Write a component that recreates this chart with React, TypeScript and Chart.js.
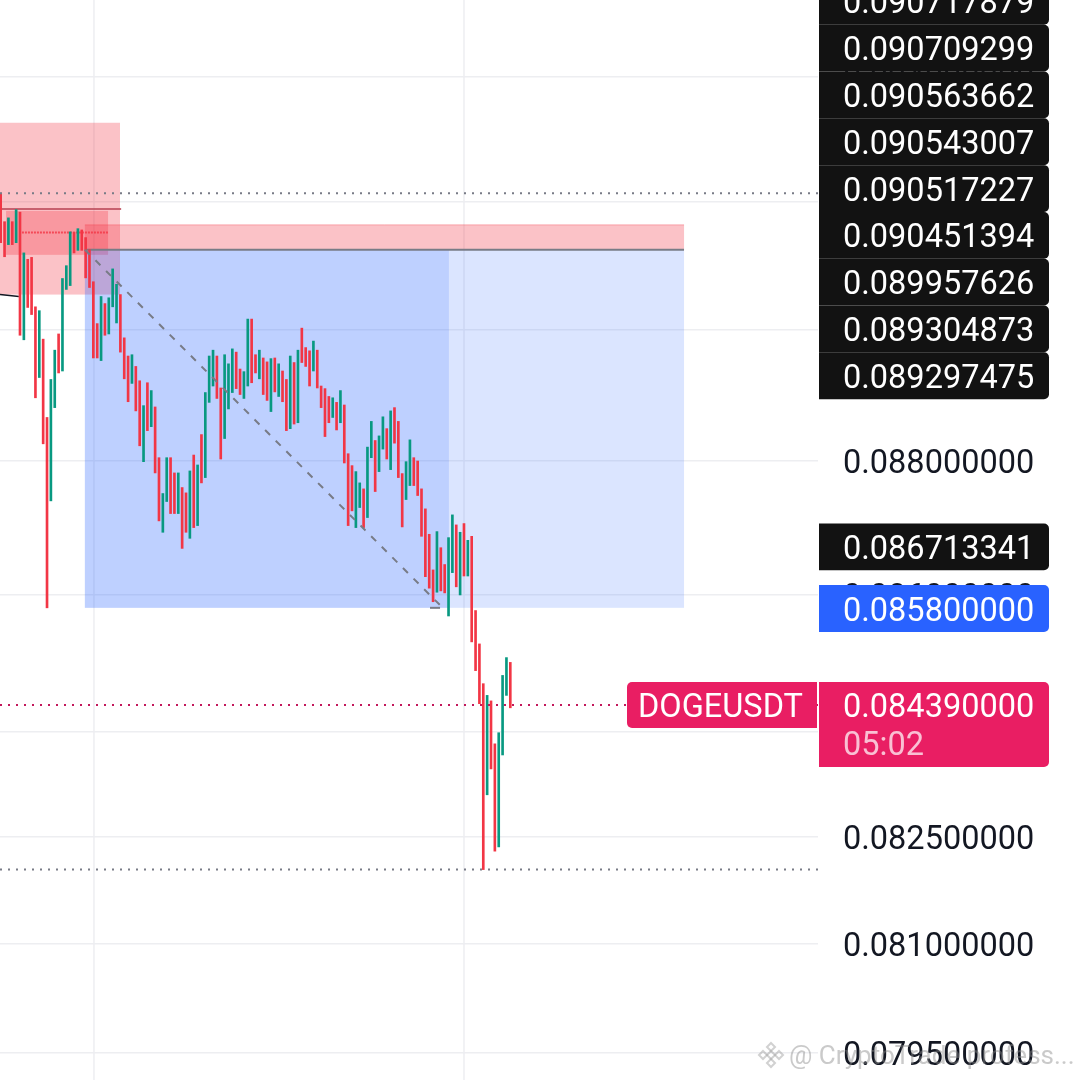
import React, { useEffect, useRef } from "react";
import { Chart, registerables } from "chart.js";
Chart.register(...registerables);

// Candle extents (red: open = top, close = bottom; green: open = bottom, close = top)
const candleOpen = [
  0.09214, 0.09169, 0.09133, 0.09169, 0.09136, 0.09184, 0.08985, 0.09110, 0.09113, 0.09036,
  0.08927, 0.08986, 0.08866, 0.08740, 0.08881, 0.08994, 0.08937, 0.09063, 0.09069, 0.09152,
  0.09124, 0.09156, 0.09144, 0.09125, 0.09075, 0.09010, 0.08953, 0.09041, 0.08994, 0.09036,
  0.09011, 0.09055, 0.08988, 0.08960, 0.08918, 0.08944, 0.08922, 0.08799, 0.08919, 0.08852,
  0.08882, 0.08805, 0.08693, 0.08739, 0.08805, 0.08782, 0.08721, 0.08760, 0.08752, 0.08684,
  0.08809, 0.08703, 0.08840, 0.08775, 0.08889, 0.08914, 0.08960, 0.08911, 0.08834, 0.08879,
  0.08904, 0.08966, 0.08940, 0.08895, 0.08914, 0.09017, 0.08962, 0.08925, 0.08957, 0.08951,
  0.08875, 0.08957, 0.08898, 0.08937, 0.08924, 0.08849, 0.08950, 0.08858, 0.09003, 0.08973,
  0.08968, 0.08937, 0.08969, 0.08914, 0.08910, 0.08898, 0.08866, 0.08889, 0.08858, 0.08885,
  0.08811, 0.08793, 0.08700, 0.08730, 0.08758, 0.08715, 0.08805, 0.08831, 0.08784, 0.08818,
  0.08849, 0.08787, 0.08881, 0.08860, 0.08781, 0.08742, 0.08763, 0.08805, 0.08800, 0.08758,
  0.08728, 0.08690, 0.08637, 0.08604, 0.08670, 0.08645, 0.08569, 0.08633, 0.08704, 0.08600,
  0.08706, 0.08628, 0.08687, 0.08577, 0.08528, 0.08470, 0.08310, 0.08445, 0.08383, 0.08236,
  0.08367, 0.08453, 0.08501,
];
const candleClose = [
  0.09136, 0.09114, 0.09175, 0.09133, 0.09188, 0.08992, 0.09120, 0.09035, 0.09024, 0.08896,
  0.09030, 0.08826, 0.08581, 0.08924, 0.08969, 0.08934, 0.09080, 0.09100, 0.09153, 0.09120,
  0.09158, 0.09124, 0.09081, 0.09066, 0.08957, 0.08957, 0.09052, 0.08992, 0.09050, 0.09095,
  0.09071, 0.08966, 0.08925, 0.08890, 0.08962, 0.08876, 0.08823, 0.08884, 0.08846, 0.08907,
  0.08782, 0.08710, 0.08751, 0.08805, 0.08721, 0.08721, 0.08782, 0.08669, 0.08693, 0.08785,
  0.08700, 0.08794, 0.08767, 0.08904, 0.08960, 0.08969, 0.08895, 0.08803, 0.08962, 0.08948,
  0.08971, 0.08910, 0.08901, 0.08936, 0.09017, 0.08919, 0.08934, 0.08969, 0.08901, 0.08892,
  0.08956, 0.08905, 0.08948, 0.08890, 0.08846, 0.08960, 0.08856, 0.08969, 0.08950, 0.08944,
  0.08914, 0.08983, 0.08911, 0.08881, 0.08837, 0.08858, 0.08896, 0.08847, 0.08907, 0.08797,
  0.08703, 0.08725, 0.08784, 0.08767, 0.08700, 0.08821, 0.08860, 0.08754, 0.08838, 0.08867,
  0.08803, 0.08876, 0.08827, 0.08775, 0.08701, 0.08799, 0.08832, 0.08763, 0.08748, 0.08687,
  0.08627, 0.08610, 0.08590, 0.08694, 0.08606, 0.08603, 0.08685, 0.08719, 0.08612, 0.08693,
  0.08628, 0.08681, 0.08531, 0.08489, 0.08441, 0.08204, 0.08453, 0.08347, 0.08230, 0.08399,
  0.08482, 0.08508, 0.08435,
];

// Price axis tick values
const yTicks = [0.0795, 0.081, 0.0825, 0.084, 0.086, 0.088, 0.09, 0.092, 0.094];
const yMin = 0.07913;
const yMax = 0.095246;
const xMin = -0.18;
const xMax = 211.7;
const timeGrid = [24.16, 120.0];

// Axis labels
const blackLabelPrices = [
  0.090717879, 0.090709299, 0.090563662, 0.090543007, 0.090517227,
  0.090451394, 0.089957626, 0.089304873, 0.089297475, 0.086713341,
];
const targetPrice = 0.0858;
const lastPrice = 0.08439;
const countdown = "05:02";
const symbol = "DOGEUSDT";

// Drawings (bar index, price)
const zones = [
  { x0: -1, x1: 30.9, p0: 0.09326, p1: 0.09055, fill: "rgba(242,54,69,0.30)" },
  { x0: 1.4, x1: 27.8, p0: 0.09186, p1: 0.09117, fill: "rgba(242,54,69,0.30)" },
  { x0: 21.8, x1: 177.0, p0: 0.09164, p1: 0.09125, fill: "rgba(242,54,69,0.30)" },
  { x0: 21.8, x1: 116.1, p0: 0.09125, p1: 0.08581, fill: "rgba(41,98,255,0.30)" },
  { x0: 116.1, x1: 177.0, p0: 0.09125, p1: 0.08581, fill: "rgba(41,98,255,0.17)" },
];
const entryLine = { x0: 21.8, x1: 177.0, p: 0.09125 };
const darkLine = { x0: -1, x1: 31.2, p: 0.09189 };
const redLine = { x0: 5.5, x1: 27.8, p: 0.09152 };
const maLine = [
  { x: -0.18, p: 0.09055 },
  { x: 4.7, p: 0.09052 },
];
const trendLine = { x0: 21.8, p0: 0.09125, x1: 113.8, p1: 0.08585 };
const highDotted = 0.09214;
const lowDotted = 0.08204;

const GREEN = "#089981";
const RED = "#F23645";
const PINK = "#E91E63";
const FONT = "32.5px Roboto";
const TEXT_DY = 4;

const overlayPlugin = {
  id: "overlay",
  beforeDatasetsDraw(chart: any) {
    const { ctx, chartArea: a, scales } = chart;
    const X = (v: number) => scales.x.getPixelForValue(v);
    const Y = (v: number) => scales.y.getPixelForValue(v);
    ctx.save();
    ctx.beginPath();
    ctx.rect(a.left, a.top, a.right - a.left, a.bottom - a.top);
    ctx.clip();
    ctx.strokeStyle = "#EDEEF1";
    ctx.lineWidth = 1.5;
    timeGrid.forEach((t) => {
      ctx.beginPath();
      ctx.moveTo(X(t), a.top);
      ctx.lineTo(X(t), a.bottom);
      ctx.stroke();
    });
    zones.forEach((z) => {
      ctx.fillStyle = z.fill;
      const x0 = X(z.x0), x1 = X(z.x1), y0 = Y(z.p0), y1 = Y(z.p1);
      ctx.fillRect(x0, y0, x1 - x0, y1 - y0);
    });
    // red band top border
    ctx.strokeStyle = "rgba(242,54,69,0.35)";
    ctx.lineWidth = 1;
    ctx.beginPath();
    ctx.moveTo(X(zones[2].x0), Y(zones[2].p0));
    ctx.lineTo(X(zones[2].x1), Y(zones[2].p0));
    ctx.stroke();
    // entry line
    ctx.strokeStyle = "#787B86";
    ctx.lineWidth = 2;
    ctx.beginPath();
    ctx.moveTo(X(entryLine.x0), Y(entryLine.p));
    ctx.lineTo(X(entryLine.x1), Y(entryLine.p));
    ctx.stroke();
    // dark line
    ctx.strokeStyle = "rgba(190,80,95,0.85)";
    ctx.lineWidth = 2;
    ctx.beginPath();
    ctx.moveTo(X(darkLine.x0), Y(darkLine.p));
    ctx.lineTo(X(darkLine.x1), Y(darkLine.p));
    ctx.stroke();
    // red line
    ctx.strokeStyle = "rgba(242,54,69,0.8)";
    ctx.setLineDash([2, 1]);
    ctx.beginPath();
    ctx.moveTo(X(redLine.x0), Y(redLine.p));
    ctx.lineTo(X(redLine.x1), Y(redLine.p));
    ctx.stroke();
    ctx.setLineDash([]);
    // ma line
    ctx.strokeStyle = "#131722";
    ctx.lineWidth = 1.5;
    ctx.beginPath();
    maLine.forEach((pt, i) => {
      if (i === 0) ctx.moveTo(X(pt.x), Y(pt.p));
      else ctx.lineTo(X(pt.x), Y(pt.p));
    });
    ctx.stroke();
    ctx.restore();
  },
  afterDatasetsDraw(chart: any) {
    const { ctx, chartArea: a, scales } = chart;
    const X = (v: number) => scales.x.getPixelForValue(v);
    const Y = (v: number) => scales.y.getPixelForValue(v);
    ctx.save();
    ctx.beginPath();
    ctx.rect(a.left, a.top, a.right - a.left, a.bottom - a.top);
    ctx.clip();
    // trend line
    ctx.strokeStyle = "#787B86";
    ctx.lineWidth = 2;
    ctx.setLineDash([7, 8]);
    ctx.beginPath();
    ctx.moveTo(X(trendLine.x0), Y(trendLine.p0));
    ctx.lineTo(X(trendLine.x1), Y(trendLine.p1));
    ctx.stroke();
    ctx.setLineDash([]);
    ctx.beginPath();
    ctx.moveTo(X(trendLine.x1 - 2.6), Y(zones[3].p1));
    ctx.lineTo(X(trendLine.x1), Y(zones[3].p1));
    ctx.stroke();
    // dotted lines
    ctx.lineWidth = 2;
    ctx.setLineDash([2, 6]);
    ctx.strokeStyle = "#787B86";
    [highDotted, lowDotted].forEach((p) => {
      ctx.beginPath();
      ctx.moveTo(a.left, Y(p));
      ctx.lineTo(a.right, Y(p));
      ctx.stroke();
    });
    ctx.strokeStyle = "#C2185B";
    ctx.beginPath();
    ctx.moveTo(a.left, Y(lastPrice));
    ctx.lineTo(a.right, Y(lastPrice));
    ctx.stroke();
    ctx.setLineDash([]);
    ctx.restore();
  },
  afterDraw(chart: any) {
    const { ctx, chartArea: a, scales } = chart;
    const Y = (v: number) => scales.y.getPixelForValue(v);
    const bx = a.right + 1;
    const bw = 230;
    const tx = a.right + 25;
    const step = 46.8;
    ctx.save();
    ctx.font = FONT;
    ctx.textBaseline = "middle";
    ctx.textAlign = "left";
    // stacked black labels
    const sorted = [...blackLabelPrices].sort((p, q) => p - q);
    let prev = Infinity;
    sorted.forEach((p) => {
      const yy = Math.min(Y(p), prev - step);
      prev = yy;
      ctx.fillStyle = "#121212";
      ctx.beginPath();
      ctx.roundRect(bx, yy - step / 2, bw, step, [0, 5, 5, 0]);
      ctx.fill();
      ctx.fillStyle = "#FFFFFF";
      ctx.fillText(p.toFixed(9), tx, yy + TEXT_DY);
    });
    // target label
    const ty = Y(targetPrice);
    ctx.fillStyle = "#2962FF";
    ctx.beginPath();
    ctx.roundRect(bx, ty - 23.5, bw, 47, [0, 5, 5, 0]);
    ctx.fill();
    ctx.fillStyle = "#FFFFFF";
    ctx.fillText(targetPrice.toFixed(9), tx, ty + TEXT_DY);
    // last price label
    const ly = Y(lastPrice);
    ctx.fillStyle = PINK;
    ctx.beginPath();
    ctx.roundRect(bx, ly - 23, bw, 85, [0, 5, 5, 0]);
    ctx.fill();
    ctx.fillStyle = "#FFFFFF";
    ctx.fillText(lastPrice.toFixed(9), tx, ly + TEXT_DY);
    ctx.fillStyle = "rgba(255,255,255,0.72)";
    ctx.fillText(countdown, tx, ly + 38 + TEXT_DY);
    // symbol label
    ctx.fillStyle = PINK;
    ctx.beginPath();
    ctx.roundRect(a.right - 191, ly - 23, 190, 46, [5, 0, 0, 5]);
    ctx.fill();
    ctx.fillStyle = "#FFFFFF";
    ctx.fillText(symbol, a.right - 180, ly + TEXT_DY);
    // watermark
    const wy = 1055;
    ctx.globalAlpha = 0.45;
    ctx.strokeStyle = "#9A9A9A";
    ctx.lineWidth = 2;
    const cx = 771;
    const d = (r: number, ox: number, oy: number) => {
      ctx.beginPath();
      ctx.moveTo(cx + ox, wy + oy - r);
      ctx.lineTo(cx + ox + r, wy + oy);
      ctx.lineTo(cx + ox, wy + oy + r);
      ctx.lineTo(cx + ox - r, wy + oy);
      ctx.closePath();
      ctx.stroke();
    };
    d(4, 0, 0);
    d(4, 0, -8);
    d(4, -8, 0);
    d(4, 8, 0);
    d(4, 0, 8);
    ctx.fillStyle = "#8A8A8A";
    ctx.font = "26px Roboto";
    ctx.fillText("@ CryptoTrade profess...", 789, wy + 2);
    ctx.restore();
  },
};

export default function App() {
  const ref = useRef<HTMLCanvasElement | null>(null);
  useEffect(() => {
    document.body.style.margin = "0";
    const canvas = ref.current;
    if (!canvas) return;
    const data = candleOpen.map((o, i) => ({ x: i, y: [o, candleClose[i]] }));
    const chart = new Chart(canvas, {
      type: "bar",
      data: {
        datasets: [
          {
            data: data as any,
            backgroundColor: candleOpen.map((o, i) => (candleClose[i] >= o ? GREEN : RED)),
            barThickness: 2,
            borderWidth: 0,
          },
        ],
      },
      options: {
        animation: false,
        responsive: false,
        devicePixelRatio: 1,
        layout: { padding: 0 },
        plugins: { legend: { display: false }, tooltip: { enabled: false } },
        scales: {
          x: { type: "linear", min: xMin, max: xMax, display: false, offset: false },
          y: {
            type: "logarithmic",
            position: "right",
            min: yMin,
            max: yMax,
            afterBuildTicks: (s: any) => {
              s.ticks = yTicks.map((v) => ({ value: v }));
            },
            afterFit: (s: any) => {
              s.width = 262;
              s.paddingTop = 0;
              s.paddingBottom = 0;
            },
            grid: { color: "#EDEEF1", lineWidth: 1.5, drawTicks: false },
            border: { display: false },
            ticks: {
              color: "#131722",
              font: { family: "Roboto", size: 32.5 },
              padding: 25,
              labelOffset: TEXT_DY,
              autoSkip: false,
              callback: (v: any) => Number(v).toFixed(9),
            },
          },
        },
      },
      plugins: [overlayPlugin],
    });
    return () => chart.destroy();
  }, []);
  return (
    <div style={{ width: 1080, height: 1080, background: "#fff" }}>
      <canvas ref={ref} width={1080} height={1080} />
    </div>
  );
}
